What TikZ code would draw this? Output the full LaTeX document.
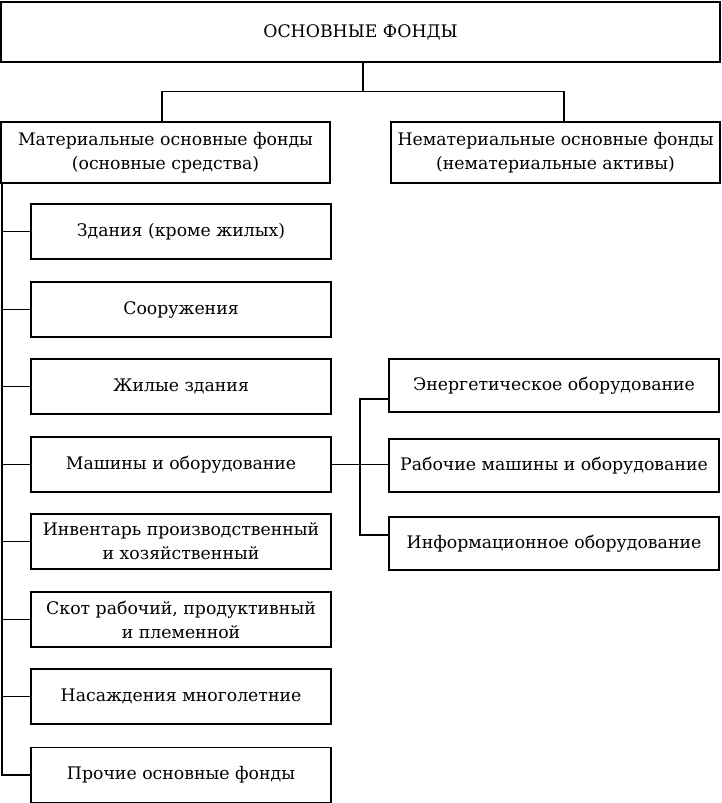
\documentclass[tikz,border=0pt]{standalone}
\usepackage{fontspec}
\setmainfont{DejaVu Serif}
\begin{document}
\begin{tikzpicture}[x=1pt,y=-1pt,
  box/.style={draw,line width=1.3pt,inner sep=0pt,align=center,font=\fontsize{17.3}{24}\selectfont},
  lbox/.style={box,minimum width=300pt,minimum height=55pt},
  rbox/.style={box,minimum width=330pt,minimum height=53pt},
  conn/.style={line width=1.3pt}]
\useasboundingbox (0,0) rectangle (721,803);
\node[box,minimum width=719pt,minimum height=60pt] (top) at (360.5,32) {ОСНОВНЫЕ ФОНДЫ};
\node[box,minimum width=329pt,minimum height=61pt] (mat) at (165.5,152.5) {Материальные основные фонды\\(основные средства)};
\node[box,minimum width=329pt,minimum height=61pt] (nemat) at (555.5,152.5) {Нематериальные основные фонды\\(нематериальные активы)};
\node[lbox] (b1) at (181,231.5) {Здания (кроме жилых)};
\node[lbox] (b2) at (181,309.5) {Сооружения};
\node[lbox] (b3) at (181,386.5) {Жилые здания};
\node[lbox] (b4) at (181,464.5) {Машины и оборудование};
\node[lbox] (b5) at (181,541.5) {Инвентарь производственный\\и хозяйственный};
\node[lbox] (b6) at (181,619.5) {Скот рабочий, продуктивный\\и племенной};
\node[lbox] (b7) at (181,696.5) {Насаждения многолетние};
\node[lbox] (b8) at (181,775) {Прочие основные фонды};
\node[rbox] (r1) at (554,385.5) {Энергетическое оборудование};
\node[rbox] (r2) at (554,465.5) {Рабочие машины и оборудование};
\node[rbox] (r3) at (554,543.5) {Информационное оборудование};
\coordinate (tr) at (2,0);
\coordinate (rb) at (360,0);
% top branching
\draw[conn] ([xshift=2.5pt]top.south) -- ++(0,29) coordinate (j);
\draw[conn] ([xshift=-3.5pt]mat.north) |- (j) -| ([xshift=8.5pt]nemat.north);
% left trunk
\draw[conn] (mat.south west -| tr) |- (b8.west);
\foreach \b in {b1,b2,b3,b4,b5,b6,b7}{\draw[conn] (\b.west) -- (\b.west -| tr);}
% right bracket
\draw[conn] (b4.east) -- (b4.east -| r2.west);
\coordinate (r1c) at ([yshift=-13.5pt]r1.west);
\coordinate (r3c) at ([yshift=8.5pt]r3.west);
\draw[conn] (r1c) -- (r1c -| rb) -- (r3c -| rb) -- (r3c);
\end{tikzpicture}
\end{document}
